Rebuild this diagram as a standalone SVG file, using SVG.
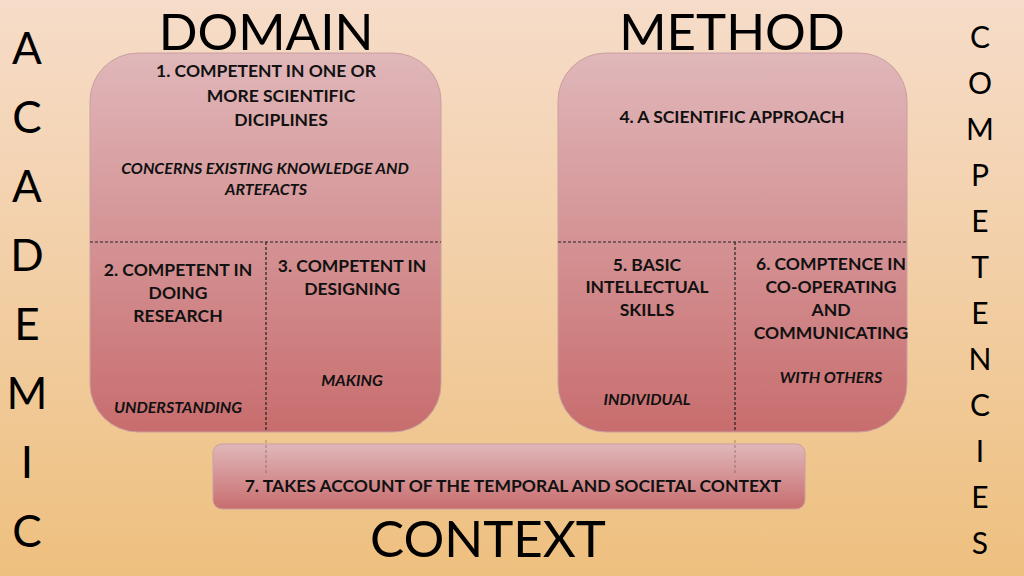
<svg xmlns="http://www.w3.org/2000/svg" width="1024" height="576" viewBox="0 0 1024 576">
<defs>
<linearGradient id="bg" x1="0" y1="0" x2="0" y2="1"><stop offset="0" stop-color="#f6dcc9"/><stop offset="1" stop-color="#eec07f"/></linearGradient>
<linearGradient id="bx" x1="0" y1="0" x2="0" y2="1"><stop offset="0" stop-color="#e0b7ba"/><stop offset="1" stop-color="#c86d6e"/></linearGradient>
<style>
.t{font-family:Lato,"Open Sans",sans-serif;font-weight:bold;font-size:17.5px;fill:#111;text-anchor:middle}
.i{font-family:Lato,"Open Sans",sans-serif;font-weight:bold;font-style:italic;font-size:16px;fill:#111;text-anchor:middle}
.h{font-family:Lato,"Open Sans",sans-serif;font-size:51px;fill:#000;text-anchor:middle}
.v{font-family:Lato,"Open Sans",sans-serif;font-size:44px;fill:#000;text-anchor:middle}
.w{font-family:Lato,"Open Sans",sans-serif;font-size:30px;fill:#000;text-anchor:middle}
.b{fill:url(#bx);stroke:#c9a0a0;stroke-width:1}
.d{stroke:#222;stroke-width:1.2;stroke-dasharray:3,2;fill:none}
</style>
</defs>
<rect width="1024" height="576" fill="url(#bg)"/>
<g id="labels">
<text class="h" x="266" y="50">DOMAIN</text>
<text class="h" x="732" y="50">METHOD</text>
<text class="h" x="488" y="557">CONTEXT</text>
<g class="v"><text x="27" y="64">A</text><text x="27" y="133">C</text><text x="27" y="202">A</text><text x="27" y="271">D</text><text x="27" y="340">E</text><text x="27" y="409">M</text><text x="27" y="478">I</text><text x="27" y="547">C</text></g>
<g class="w"><text x="980" y="48">C</text><text x="980" y="94">O</text><text x="980" y="140">M</text><text x="980" y="186">P</text><text x="980" y="232">E</text><text x="980" y="278">T</text><text x="980" y="324">E</text><text x="980" y="370">N</text><text x="980" y="416">C</text><text x="980" y="462">I</text><text x="980" y="508">E</text><text x="980" y="554">S</text></g>
</g>
<g id="domain">
<rect class="b" x="90" y="53" width="351" height="379" rx="48"/>
<text class="t" x="266" y="77">1.  COMPETENT IN ONE OR</text>
<text class="t" x="281" y="102">MORE SCIENTIFIC</text>
<text class="t" x="281" y="126">DICIPLINES</text>
<text class="i" x="265" y="174">CONCERNS EXISTING KNOWLEDGE AND</text>
<text class="i" x="266" y="195">ARTEFACTS</text>
<text class="t" x="178" y="276">2. COMPETENT IN</text>
<text class="t" x="178" y="299">DOING</text>
<text class="t" x="178" y="322">RESEARCH</text>
<text class="t" x="352" y="272">3. COMPETENT IN</text>
<text class="t" x="352" y="295">DESIGNING</text>
<text class="i" x="352" y="386">MAKING</text>
<text class="i" x="178" y="413">UNDERSTANDING</text>
</g>
<g id="method">
<rect class="b" x="558" y="53" width="349" height="379" rx="48"/>
<text class="t" x="732" y="123">4. A SCIENTIFIC APPROACH</text>
<text class="t" x="647" y="271">5. BASIC</text>
<text class="t" x="647" y="293">INTELLECTUAL</text>
<text class="t" x="647" y="316">SKILLS</text>
<text class="t" x="831" y="270">6. COMPTENCE IN</text>
<text class="t" x="831" y="293">CO-OPERATING</text>
<text class="t" x="831" y="316">AND</text>
<text class="t" x="831" y="339">COMMUNICATING</text>
<text class="i" x="831" y="383">WITH OTHERS</text>
<text class="i" x="647" y="405">INDIVIDUAL</text>
</g>
<g id="context">
<rect class="b" x="213" y="444" width="592" height="65" rx="9"/>
<text class="t" x="513" y="492">7. TAKES ACCOUNT OF THE TEMPORAL AND SOCIETAL CONTEXT</text>
</g>
<g id="connectors">
<line class="d" x1="90" y1="242" x2="441" y2="242"/>
<line class="d" x1="266" y1="242" x2="266" y2="432"/>
<line class="d" x1="558" y1="242" x2="907" y2="242"/>
<line class="d" x1="735" y1="242" x2="735" y2="432"/>
<line class="d" x1="266" y1="440" x2="266" y2="475" stroke-opacity="0.3"/>
<line class="d" x1="735" y1="440" x2="735" y2="475" stroke-opacity="0.3"/>
</g>
</svg>
